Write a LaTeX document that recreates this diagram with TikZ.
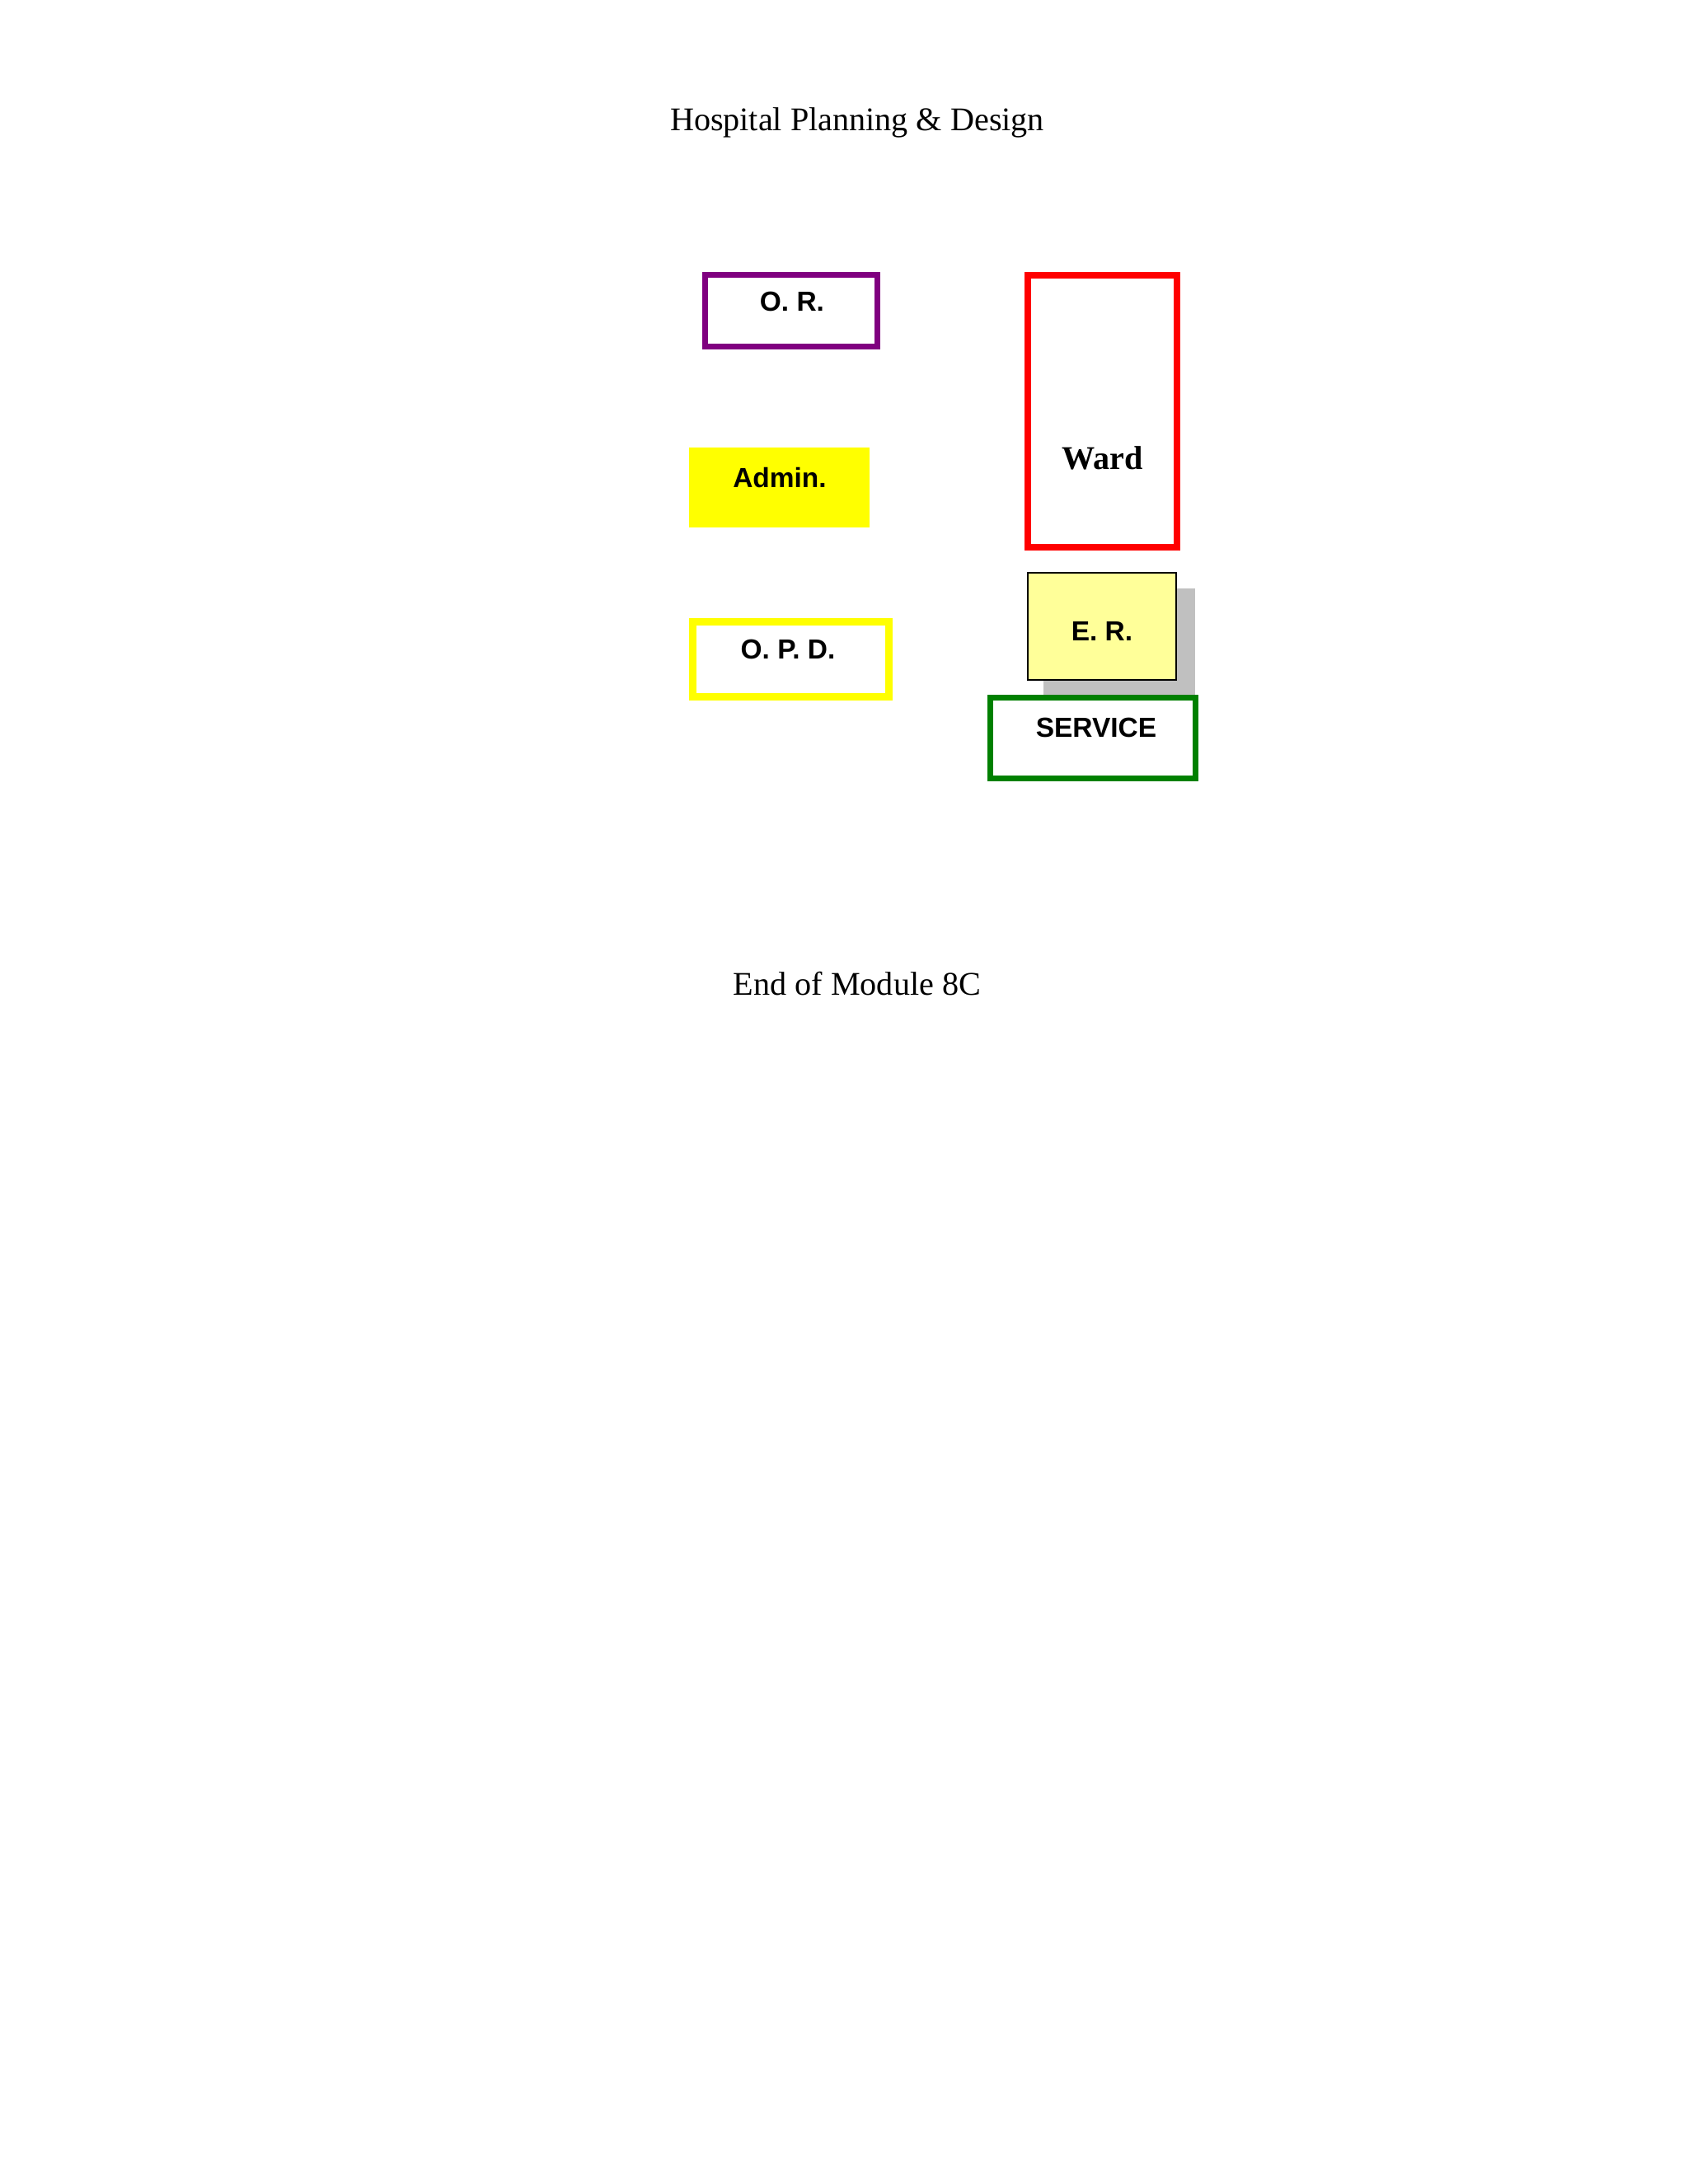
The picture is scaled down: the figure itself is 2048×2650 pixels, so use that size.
\documentclass[tikz,border=0pt]{standalone}
\usepackage{fontspec}
\setmainfont{Liberation Serif}
\newfontfamily\arialfont{Liberation Sans}
\def\pxu{0.29883pt}
\definecolor{orpurple}{HTML}{800080}
\definecolor{wardred}{HTML}{FF0000}
\definecolor{adminyellow}{HTML}{FFFF00}
\definecolor{svcgreen}{HTML}{008000}
\definecolor{erfill}{HTML}{FFFF99}
\definecolor{shadowgray}{HTML}{C0C0C0}
\tikzset{
  roombox/.style={rectangle, inner sep=0pt, outer sep=0pt},
  roomlabel/.style={anchor=base, inner sep=0pt, font=\arialfont\bfseries\fontsize{10}{12}\selectfont},
  pagetext/.style={anchor=base, inner sep=0pt, font=\fontsize{12}{14}\selectfont}
}
\begin{document}
\begin{tikzpicture}[x=0.29883pt, y=-0.29883pt]
\useasboundingbox (0,0) rectangle (2048,2650);
\fill[white] (0,0) rectangle (2048,2650);
% title
\node[pagetext] (title) at (1040,158) {Hospital Planning \& Design};
% O.R.
\node[roombox, draw=orpurple, line width={7*\pxu}, minimum width={209*\pxu}, minimum height={87*\pxu}] (orbox) at (960,377) {};
\node[roomlabel] (ortext) at (961,377) {O. R.};
% Admin
\node[roombox, fill=adminyellow, minimum width={219*\pxu}, minimum height={97*\pxu}] (adminbox) at (945.5,591.5) {};
\node[roomlabel] (admintext) at (946,591) {Admin.};
% OPD
\node[roombox, draw=adminyellow, line width={9*\pxu}, minimum width={238*\pxu}, minimum height={91*\pxu}] (opdbox) at (959.5,800) {};
\node[roomlabel] (opdtext) at (956,799) {O. P. D.};
% Ward
\node[roombox, draw=wardred, line width={7.5*\pxu}, minimum width={181*\pxu}, minimum height={330*\pxu}] (wardbox) at (1337.5,499) {};
\node[anchor=base, inner sep=0pt, font=\bfseries\fontsize{12}{14}\selectfont] (wardtext) at (1338,569) {Ward};
% E.R. with shadow
\node[roombox, fill=shadowgray, minimum width={184*\pxu}, minimum height={132*\pxu}] (ershadow) at (1358,780) {};
\node[roombox, draw=black, fill=erfill, line width={2.5*\pxu}, minimum width={180*\pxu}, minimum height={130*\pxu}] (erbox) at (1337,760) {};
\node[roomlabel] (ertext) at (1337,777) {E. R.};
% Service
\node[roombox, draw=svcgreen, fill=white, line width={7*\pxu}, minimum width={249*\pxu}, minimum height={98*\pxu}] (svcbox) at (1326,895.5) {};
\node[roomlabel] (svctext) at (1330,894) {SERVICE};
% footer
\node[pagetext] (endtext) at (1040,1207) {End of Module 8C};
\end{tikzpicture}
\end{document}
